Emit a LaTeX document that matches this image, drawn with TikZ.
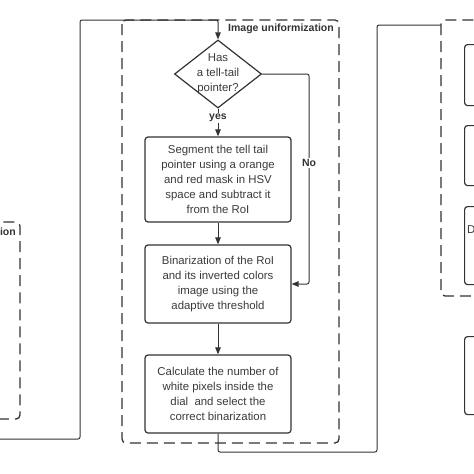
\documentclass[tikz,border=0pt]{standalone}
\usepackage{fontspec}
\setmainfont{Liberation Sans}
\usetikzlibrary{shapes.geometric,arrows.meta}
\definecolor{linegrey}{RGB}{51,51,51}
\definecolor{textgrey}{RGB}{58,58,58}

\begin{document}
\begin{tikzpicture}[x=1pt, y=-1pt,
  stepbox/.style={draw=linegrey, line width=1.2pt, rounded corners=3pt, minimum width=146pt, align=center, text=textgrey, font=\fontsize{11.4}{15}\selectfont},
  sidebox/.style={draw=linegrey, line width=1.2pt, rounded corners=3pt, minimum width=90pt, anchor=north west},
  flow/.style={draw=linegrey, line width=1pt, rounded corners=2pt, -{Triangle[length=7pt,width=5.5pt]}},
  link/.style={draw=linegrey, line width=1pt, rounded corners=2pt},
  group/.style={draw=linegrey, line width=1.3pt, dash pattern=on 11pt off 6pt, rounded corners=4pt},
  tag/.style={font=\fontsize{10.5}{12}\selectfont\bfseries, text=linegrey}]

\useasboundingbox (0,0) rectangle (474,474);
\clip (0,0) rectangle (474,474);

% dashed groups
\draw[group] (-100,222) rectangle (20,419);
\draw[group] (122,20) rectangle (339,443);
\draw[group] (441,20) rectangle (560,296);
\node[tag, anchor=east, inner sep=0pt] (grpleft) at (16,232) {ion};
\node[tag, anchor=north east, inner sep=1pt] (grpmid) at (335,23) {Image uniformization};

% steps
\node[draw=linegrey, line width=1.2pt, shape=diamond, aspect=1.28, inner sep=-1.5pt, align=center, text=textgrey, font=\fontsize{11.4}{15}\selectfont] (has) at (218,74) {Has\\a tell-tail\\pointer?};
\node[stepbox, minimum height=85pt] (seg) at (218,179.5) {Segment the tell tail\\pointer using a orange\\and red mask in HSV\\space and subtract it\\from the RoI};
\node[stepbox, minimum height=78pt] (bin) at (218,284) {Binarization of the RoI\\and its inverted colors\\image using the\\adaptive threshold};
\node[stepbox, minimum height=78pt] (calc) at (218,394) {Calculate the number of\\white pixels inside the\\dial~ and select the\\correct binarization};

% steps on the right, cut by the border
\node[sidebox, minimum height=61pt] (rone) at (464,44) {};
\node[sidebox, minimum height=60pt] (rtwo) at (464,125) {};
\node[sidebox, minimum height=78pt] (rthree) at (464,206) {};
\node[sidebox, minimum height=78pt] (rfour) at (464,336) {};
\node[text=textgrey, font=\fontsize{11.4}{15}\selectfont, anchor=west, inner sep=0pt] (rthreetext) at (467,230) {D};

% connectors
\coordinate (inL) at (-5,439);
\coordinate (outR) at (441,25);
\draw[flow] (inL) -| (80,20) -| (has.north);
\draw[flow] (has.south) -- (seg.north);
\node[tag, fill=white, inner sep=1.5pt] (yes) at (218,118) {yes};
\draw[flow] (has.east) -| (309,284) -- (bin.east);
\node[tag, fill=white, inner sep=1.5pt] (no) at (309,163) {No};
\draw[flow] (seg.south) -- (bin.north);
\draw[flow] (bin.south) -- (calc.north);
\draw[link] (calc.south) |- (377,452) |- (outR);
\end{tikzpicture}
\end{document}
